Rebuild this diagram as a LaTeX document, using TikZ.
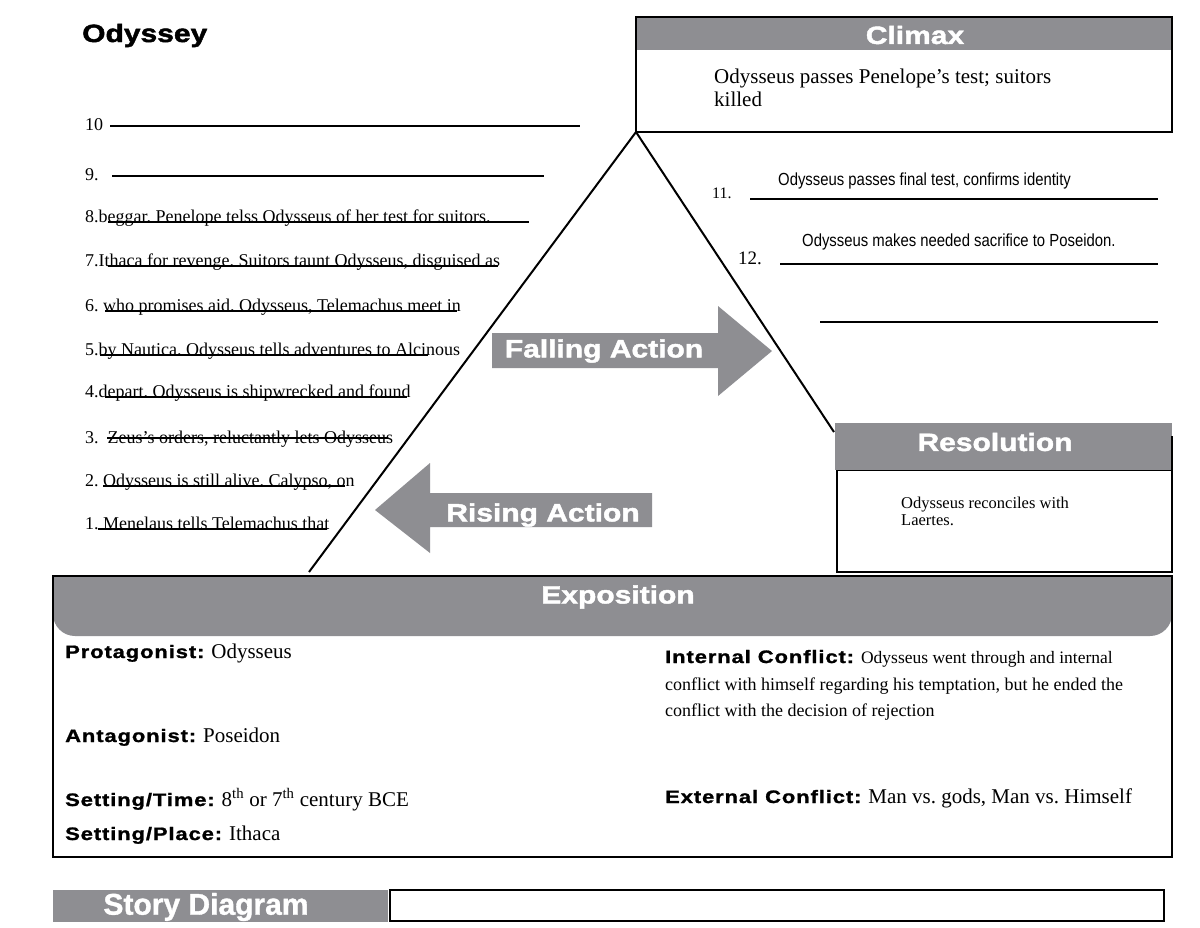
\documentclass[tikz,border=0pt]{standalone}
\usepackage{fontspec}
\setmainfont{Liberation Serif}
\newfontfamily\blk{Liberation Sans}[FakeStretch=1.2,FakeBold=1.8]
\newfontfamily\lab{Liberation Sans}[FakeStretch=1.22,FakeBold=1.3,LetterSpace=5]
\newfontfamily\sbold{Liberation Sans}[FakeStretch=1.0,FakeBold=1.2]
\newfontfamily\narrow{Liberation Sans}[FakeStretch=0.85]
\definecolor{hgray}{RGB}{142,142,146}
\newcommand{\fs}[1]{\fontsize{#1}{#1}\selectfont}
\newcommand{\lblf}{\lab\bfseries\fs{18}}
\begin{document}
\frenchspacing
\begin{tikzpicture}[x=1pt,y=-1pt,
  hdtext/.style={text=white, inner sep=0pt, font=\blk\bfseries\fs{25}},
  boxline/.style={draw=black, line width=1.5pt},
  rule/.style={line width=1.3pt},
  txt/.style={anchor=base west, inner sep=0pt},
  item/.style={txt, font=\fs{18}}]
\useasboundingbox[fill=white] (0,0) rectangle (1200,927);

% title
\node[txt, font=\blk\bfseries\fs{25}] (title) at (82,42) {Odyssey};

% ---- Climax box
\fill[hgray] (636,17) rectangle (1172,50);
\draw[boxline] (636,17) rectangle (1172,132);
\node[hdtext] (climaxhd) at (915,35) {Climax};
\node[txt, font=\fs{21}] (climax1) at (714,83) {Odysseus passes Penelope's test; suitors};
\node[txt, font=\fs{21}] (climax2) at (714,106) {killed};

% ---- triangle
\coordinate (apex) at (636,132);
\coordinate (lfoot) at (309,572);
\coordinate (rfoot) at (834,432);
\draw[line width=2pt] (lfoot) -- (apex) -- (rfoot);

% ---- left items
\node[item] (n10) at (85,130) {10};
\draw[rule] (110,126) -- (580,126);
\node[item] (n9) at (85,180) {9.};
\draw[rule] (112,176) -- (544,176);
\node[item] (n8) at (85,222) {8.beggar. Penelope telss Odysseus of her test for suitors.};
\draw[rule] (108,222) -- (529,222);
\node[item] (n7) at (85,266) {7.Ithaca for revenge. Suitors taunt Odysseus, disguised as};
\draw[rule] (108,266) -- (498,266);
\node[item] (n6) at (85,311) {6. who promises aid. Odysseus, Telemachus meet in};
\draw[rule] (105,311) -- (457,311);
\node[item] (n5) at (85,355) {5.by Nautica. Odysseus tells adventures to Alcinous};
\draw[rule] (100,355) -- (428,355);
\node[item] (n4) at (85,397) {4.depart. Odysseus is shipwrecked and found};
\draw[rule] (105,397) -- (407,397);
\node[item] (n3) at (85,443) {3.\ \ Zeus's orders, reluctantly lets Odysseus};
\draw[rule] (107,438) -- (388,438);
\node[item] (n2) at (85,486) {2. Odysseus is still alive. Calypso, on};
\draw[rule] (103,486) -- (345,486);
\node[item] (n1) at (85,529) {1. Menelaus tells Telemachus that};
\draw[rule] (98,529) -- (327,529);

% ---- right items
\node[txt, font=\fs{16}] (n11) at (712,198) {11.};
\node[txt, font=\narrow\fs{17.5}] (t11) at (778,185) {Odysseus passes final test, confirms identity};
\draw[rule] (750,199) -- (1158,199);
\node[txt, font=\fs{19}] (n12) at (738,264) {12.};
\node[txt, font=\narrow\fs{17.5}] (t12) at (802,246) {Odysseus makes needed sacrifice to Poseidon.};
\draw[rule] (780,264) -- (1158,264);
\draw[rule] (820,322) -- (1158,322);

% ---- arrows
\fill[hgray] (492,333) -- (718,333) -- (718,306) -- (772,351) -- (718,396) -- (718,368) -- (492,368) -- cycle;
\node[hdtext] (falling) at (604,351) {Falling Action};
\fill[hgray] (652,493) -- (430,493) -- (430,463) -- (375,510) -- (430,553) -- (430,527) -- (652,527) -- cycle;
\node[hdtext] (rising) at (543,515) {Rising Action};

% ---- Resolution box
\draw[boxline] (837,470) rectangle (1172,572);
\fill[hgray] (835,423) rectangle (1172,470);
\draw[line width=1.5pt] (1172,436) -- (1172,470);
\node[hdtext] (reshd) at (995,442) {Resolution};
\node[txt, font=\fs{16.5}] (res1) at (901,508) {Odysseus reconciles with};
\node[txt, font=\fs{16.5}] (res2) at (901,525) {Laertes.};

% ---- Exposition
\fill[hgray, rounded corners=22pt] (53,576) rectangle (1172,636);
\fill[hgray] (53,576) rectangle (1172,606);
\draw[boxline] (53,576) rectangle (1172,857);
\node[hdtext] (exphd) at (618,597) {Exposition};

\node[txt] (prot) at (65,658) {{\lblf Protagonist:\ }{\fs{21}Odysseus}};
\node[txt] (anta) at (65,742) {{\lblf Antagonist:\ }{\fs{21}Poseidon}};
\node[txt] (stime) at (65,806) {{\lblf Setting/Time:\ }{\fs{21}8\textsuperscript{th} or 7\textsuperscript{th} century BCE}};
\node[txt] (splace) at (65,840) {{\lblf Setting/Place:\ }{\fs{21}Ithaca}};

\node[txt] (intc1) at (665,663) {{\lblf Internal Conflict:\ }{\fs{17.5}Odysseus went through and internal}};
\node[txt, font=\fs{18}] (intc2) at (665,690) {conflict with himself regarding his temptation, but he ended the};
\node[txt, font=\fs{18}] (intc3) at (665,716) {conflict with the decision of rejection};
\node[txt] (extc) at (665,803) {{\lblf External Conflict:\ }{\fs{21}Man vs. gods, Man vs. Himself}};

% ---- Story Diagram bar
\fill[hgray] (53,890) rectangle (388,922);
\node[text=white, inner sep=0pt, font=\sbold\bfseries\fs{30}] (story) at (206,907) {Story Diagram};
\draw[boxline] (390,890) rectangle (1164,921);
\end{tikzpicture}
\end{document}
